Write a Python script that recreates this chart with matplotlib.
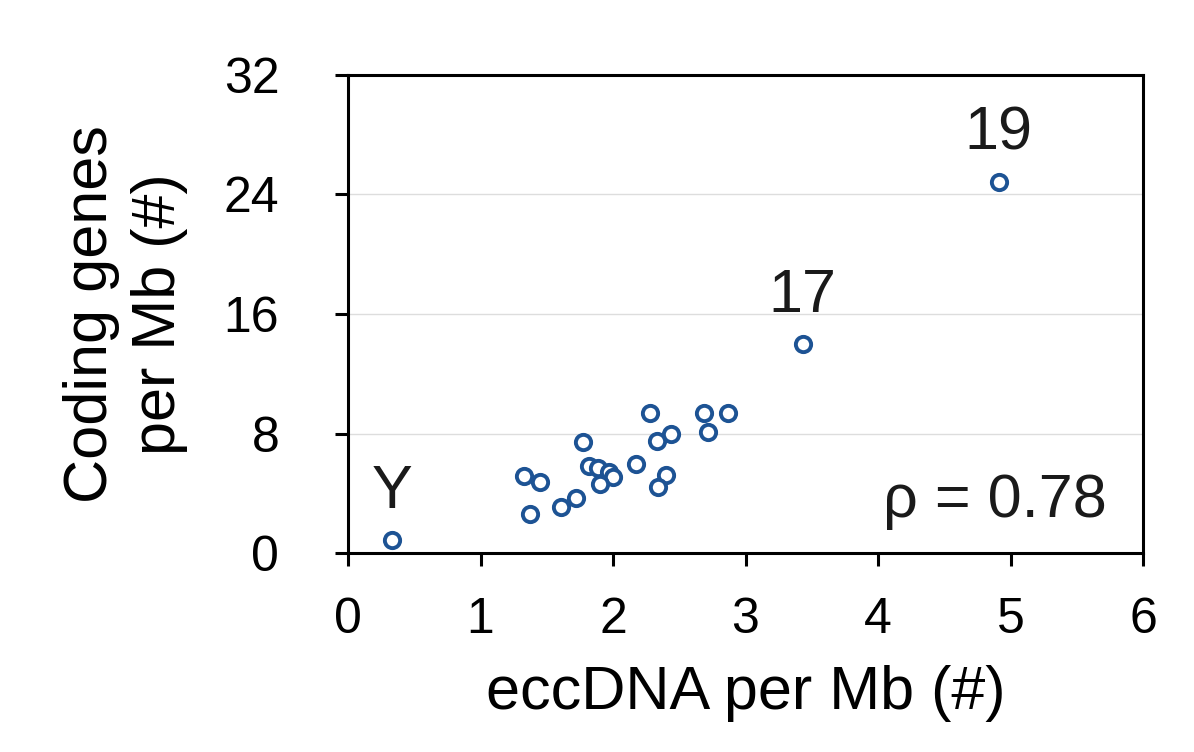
import matplotlib
matplotlib.use("Agg")
import matplotlib.pyplot as plt

# eccDNA per Mb vs coding genes per Mb, one point per chromosome
ecc_per_mb = [0.33, 1.33, 1.45, 1.37, 1.61, 1.72, 1.77, 1.82, 1.89, 1.97, 2.00,
              1.90, 2.17, 2.28, 2.33, 2.44, 2.40, 2.34, 2.69, 2.72, 2.87, 3.43, 4.91]
genes_per_mb = [0.87, 5.15, 4.77, 2.61, 3.10, 3.66, 7.41, 5.82, 5.67, 5.44, 5.07,
                4.60, 5.96, 9.39, 7.52, 7.96, 5.22, 4.40, 9.39, 8.12, 9.35, 13.99, 24.83]
labels = {0: "Y", 21: "17", 22: "19"}
rho = 0.78

xticks = [0, 1, 2, 3, 4, 5, 6]
yticks = [0, 8, 16, 24, 32]

plt.rcParams["font.family"] = ["Liberation Sans", "DejaVu Sans"]

fig = plt.figure(figsize=(11.94, 7.52), dpi=100)
ax = fig.add_axes([0.2915, 0.2646, 0.6658, 0.6357])

ax.plot(ecc_per_mb, genes_per_mb, linestyle="none", marker="o", markersize=11,
        markerfacecolor="white", markeredgecolor="#1d5394", markeredgewidth=2.8,
        zorder=3)

for i, txt in labels.items():
    ax.annotate(txt, (ecc_per_mb[i], genes_per_mb[i]), xytext=(0, 14),
                textcoords="offset points", ha="center", va="bottom",
                fontsize=44, color="#1a1a1a")

ax.text(0.955, 0.075, f"ρ = {rho:.2f}", transform=ax.transAxes, ha="right",
        va="baseline", fontsize=44, color="#1a1a1a")

ax.set_xlim(0, 6)
ax.set_ylim(0, 32)
ax.set_xticks(xticks)
ax.set_yticks(yticks)
ax.yaxis.grid(True, color="#dddddd", linewidth=1)
ax.set_axisbelow(True)

for s in ax.spines.values():
    s.set_linewidth(2.2)
ax.tick_params(direction="out", length=9.5, width=2.2, labelsize=36)
ax.tick_params(axis="y", pad=40)
ax.tick_params(axis="x", pad=22)

ax.set_xlabel("eccDNA per Mb (#)", fontsize=44, labelpad=16)
ax.set_ylabel("Coding genes\nper Mb (#)", fontsize=44, labelpad=26, linespacing=1.25)

fig.savefig("out.png", dpi=100)
